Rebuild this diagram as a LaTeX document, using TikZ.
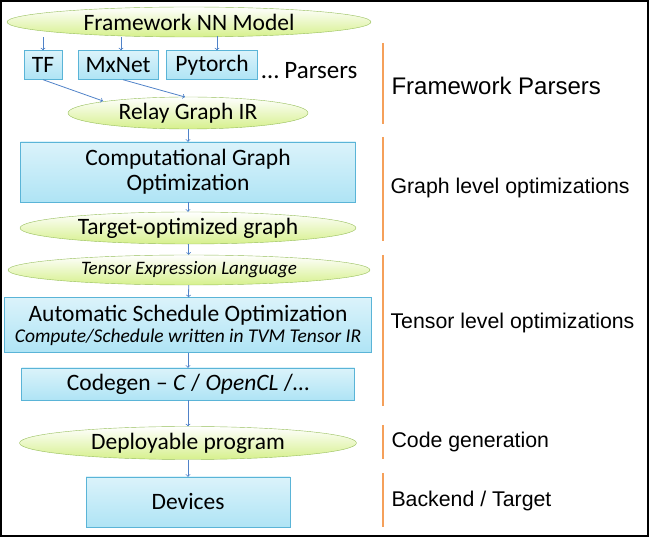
\documentclass[tikz,border=0pt]{standalone}
\usepackage{fontspec}
\setmainfont{Carlito}
\newfontfamily\labelfont{Liberation Sans}
\usepackage{tikz}
\usetikzlibrary{shapes.geometric, arrows, positioning, calc}

\definecolor{ellfill}{RGB}{214,240,140}
\definecolor{ellline}{RGB}{150,190,90}
\definecolor{boxfill}{RGB}{175,228,245}
\definecolor{boxline}{RGB}{90,180,215}
\definecolor{arrowblue}{RGB}{80,130,200}
\definecolor{bracket}{RGB}{245,160,90}

\begin{document}
\begin{tikzpicture}[
    x=1pt, y=-1pt,
    every node/.style={font=\fontsize{23.5}{25}\selectfont},
    stage/.style={ellipse, draw=ellline, top color=white, bottom color=ellfill, inner sep=0pt},
    block/.style={rectangle, draw=boxline, top color=boxfill!45, bottom color=boxfill, inner sep=0pt, align=center},
    arrow/.style={->, >=to, arrowblue, line width=0.8pt},
    side/.style={bracket, line width=1.8pt},
    level/.style={anchor=west, font=\labelfont\fontsize{21.3}{23}\selectfont}
]
    \useasboundingbox (0,0) rectangle (649,537);
    \draw[line width=1.2pt] (1,1) rectangle (648,536);

    \node[stage, minimum width=364, minimum height=30] (model) at (189,22) {Framework NN Model};
    \node[block, minimum width=38, minimum height=29] (tf) at (43,65) {TF};
    \node[block, minimum width=80, minimum height=29] (mxnet) at (118,65) {MxNet};
    \node[block, minimum width=91, minimum height=29] (pytorch) at (212,65) {Pytorch};
    \node[anchor=west, font=\fontsize{25}{27}\selectfont] (parsers) at (258,71) {\dots\ Parsers};
    \node[stage, minimum width=240, minimum height=32] (relay) at (188,113) {Relay Graph IR};
    \node[block, minimum width=335, minimum height=60] (graphopt) at (188,172) {Computational Graph\\Optimization};
    \node[stage, minimum width=362, minimum height=30, font=\itshape\fontsize{19}{21}\selectfont] (tel) at (189,270) {Tensor Expression Language};
    \node[stage, minimum width=336, minimum height=32] (target) at (188,228) {Target-optimized graph};
    \node[block, minimum width=367, minimum height=55] (sched) at (188,325) {Automatic Schedule Optimization\\[-4pt]{\itshape\fontsize{19.5}{21}\selectfont Compute/Schedule written in TVM Tensor IR}};
    \node[block, minimum width=333, minimum height=32] (codegen) at (188,384) {Codegen -- \textit{C} / \textit{OpenCL} /\dots};
    \node[stage, minimum width=337, minimum height=33] (deploy) at (188,443) {Deployable program};
    \node[block, minimum width=204, minimum height=50] (devices) at (188,502) {Devices};

    \coordinate (tfin) at (103,101);
    \coordinate (mxin) at (185,97);
    \draw[arrow] (model.south -| tf) -- (tf);
    \draw[arrow] ($(model.south)+(-68,0)$) -- (mxnet.north -| {(121,0)});
    \draw[arrow] ($(model.south)+(28,-1)$) -- (pytorch.north -| {(217,0)});
    \draw[arrow] (tf.south) -- (tfin);
    \draw[arrow] ($(mxnet.south)+(5,0)$) -- (mxin);
    \draw[arrow] (relay) -- (graphopt);
    \draw[arrow] (graphopt) -- (target);
    \draw[arrow] (target) -- (tel);
    \draw[arrow] (tel) -- (sched);
    \draw[arrow] (sched) -- (codegen);
    \draw[arrow] (codegen) -- (deploy);
    \draw[arrow] (deploy) -- (devices);

    % levels on the right
    \draw[side] (383,43) -- (383,124);
    \draw[side] (383,137) -- (383,241);
    \draw[side] (383,255) -- (383,406);
    \draw[side] (383,425) -- (383,459);
    \draw[side] (383,473) -- (383,527);
    \node[level, font=\labelfont\fontsize{24}{26}\selectfont] (lparse) at (388,86) {Framework Parsers};
    \node[level] (lgraph) at (387,188) {Graph level optimizations};
    \node[level] (ltensor) at (387,323) {Tensor level optimizations};
    \node[level] (lcode) at (388,442) {Code generation};
    \node[level] (lback) at (388,501) {Backend / Target};
\end{tikzpicture}
\end{document}
